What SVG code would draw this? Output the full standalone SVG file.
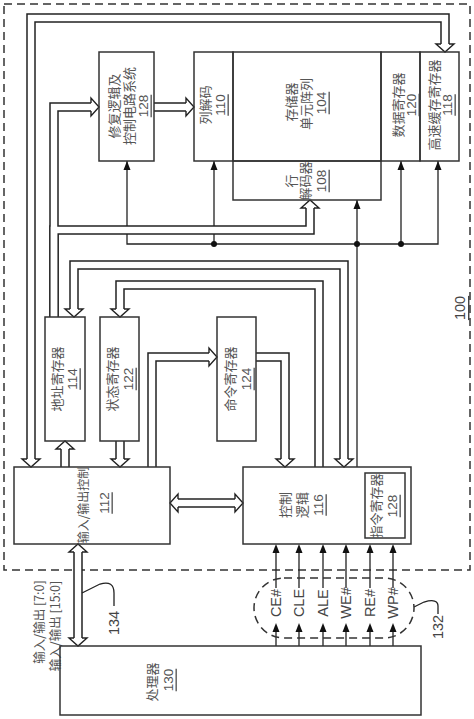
<svg xmlns="http://www.w3.org/2000/svg" xmlns:xlink="http://www.w3.org/1999/xlink" width="474" height="719" viewBox="0 0 474 719">
<style>
.t{font-family:"Noto Sans CJK SC","Liberation Sans",sans-serif;font-size:13px;fill:#555;text-anchor:middle;dominant-baseline:central}
.n{font-family:"Liberation Sans",Arial,sans-serif;font-size:13.5px;fill:#555;text-anchor:middle;dominant-baseline:central}
.s{font-family:"Liberation Sans",Arial,sans-serif;font-size:14.5px;fill:#444;text-anchor:middle;dominant-baseline:central}
.u{text-decoration:underline}
.box{fill:none;stroke:#333;stroke-width:1.5}
.wire{fill:none;stroke:#222;stroke-width:1.3}
.busO{fill:none;stroke:#222;stroke-width:9.5}
.busI{fill:none;stroke:#fff;stroke-width:6.5}
.head{fill:#fff;stroke:#222;stroke-width:1.4}
.dash{fill:none;stroke:#333;stroke-width:1.5;stroke-dasharray:8 5}
</style>
<defs>
<path id="hd" d="M-4,-8 H-9 L0,0 L9,-8 H4"/>
<path id="ah" d="M0,0 L-3.5,-9 L3.5,-9 Z" fill="#111"/>
</defs>
<rect x="0" y="0" width="474" height="719" fill="#fff"/>
<g id="boundary-100">
<rect class="dash" x="4" y="4" width="466" height="566"/>
<text class="s u" transform="translate(460,308) rotate(-90)">100</text>
</g>
<g id="connectors">
<path class="wire" d="M357,467 V200 M127,161 V244 H438 V161 M214,161 V244 M401,161 V244"/>
<circle cx="214" cy="244" r="3" fill="#111"/>
<circle cx="357" cy="244" r="3" fill="#111"/>
<circle cx="401" cy="244" r="3" fill="#111"/>
<use href="#ah" transform="translate(127,161) rotate(180)"/>
<use href="#ah" transform="translate(214,161) rotate(180)"/>
<use href="#ah" transform="translate(357,200) rotate(180)"/>
<use href="#ah" transform="translate(401,161) rotate(180)"/>
<use href="#ah" transform="translate(438,161) rotate(180)"/>
<path class="wire" d="M276,588 V548 M299,588 V548 M323,588 V548 M346,588 V548 M370,588 V548 M393,588 V548 M276,646 V627 M299,646 V627 M323,646 V627 M346,646 V627 M370,646 V627 M393,646 V627"/>
<use href="#ah" transform="translate(276,544) rotate(180)"/>
<use href="#ah" transform="translate(299,544) rotate(180)"/>
<use href="#ah" transform="translate(323,544) rotate(180)"/>
<use href="#ah" transform="translate(346,544) rotate(180)"/>
<use href="#ah" transform="translate(370,544) rotate(180)"/>
<use href="#ah" transform="translate(393,544) rotate(180)"/>
<use href="#ah" transform="translate(276,623) rotate(180)"/>
<use href="#ah" transform="translate(299,623) rotate(180)"/>
<use href="#ah" transform="translate(323,623) rotate(180)"/>
<use href="#ah" transform="translate(346,623) rotate(180)"/>
<use href="#ah" transform="translate(370,623) rotate(180)"/>
<use href="#ah" transform="translate(393,623) rotate(180)"/>
<g class="busO">
<path d="M31,459 V18 H445 V44"/>
<path d="M54,317 V107 H91"/>
<path d="M54,317 V230 H310 V208"/>
<path d="M154,107 H186"/>
<path d="M65,467 V449"/>
<path d="M120,441 V459"/>
<path d="M74,309 V265 H344 V459"/>
<path d="M120,309 V285 H319 V467"/>
<path d="M152,467 V357 H209"/>
<path d="M256,357 H285 V459"/>
<path d="M178,503 H235"/>
<path d="M78,552 V638"/>
</g>
<g class="busI">
<path d="M31,459 V18 H445 V44"/>
<path d="M54,317 V107 H91"/>
<path d="M54,317 V230 H310 V208"/>
<path d="M154,107 H186"/>
<path d="M65,467 V449"/>
<path d="M120,441 V459"/>
<path d="M74,309 V265 H344 V459"/>
<path d="M120,309 V285 H319 V467"/>
<path d="M152,467 V357 H209"/>
<path d="M256,357 H285 V459"/>
<path d="M178,503 H235"/>
<path d="M78,552 V638"/>
</g>
<g class="head">
<use href="#hd" transform="translate(31,467)"/>
<use href="#hd" transform="translate(445,52)"/>
<use href="#hd" transform="translate(99,107) rotate(-90)"/>
<use href="#hd" transform="translate(310,200) rotate(180)"/>
<use href="#hd" transform="translate(194,107) rotate(-90)"/>
<use href="#hd" transform="translate(65,441) rotate(180)"/>
<use href="#hd" transform="translate(120,467)"/>
<use href="#hd" transform="translate(74,317)"/>
<use href="#hd" transform="translate(344,467)"/>
<use href="#hd" transform="translate(120,317)"/>
<use href="#hd" transform="translate(217,357) rotate(-90)"/>
<use href="#hd" transform="translate(285,467)"/>
<use href="#hd" transform="translate(170,503) rotate(90)"/>
<use href="#hd" transform="translate(243,503) rotate(-90)"/>
<use href="#hd" transform="translate(78,544) rotate(180)"/>
<use href="#hd" transform="translate(78,646)"/>
</g>
<path class="wire" d="M82,593 L100,584 Q114,580 114,593 V606"/>
<path class="wire" d="M414,607 L424,602 Q438,598 438,606 V614"/>
<text class="s" transform="translate(114,623) rotate(-90)">134</text>
<text class="t" style="font-size:12.5px" transform="translate(38,622) rotate(-90)">输入/输出 [7:0]</text>
<text class="t" style="font-size:12.5px" transform="translate(54,626) rotate(-90)">输入/输出 [15:0]</text>
</g>
<g id="n128-repair">
<rect class="box" x="99" y="52" width="55" height="109"/>
<text class="t" transform="translate(113,106) rotate(-90)">修复逻辑及</text>
<text class="t" transform="translate(128,106) rotate(-90)">控制电路系统</text>
<text class="n u" transform="translate(143,106) rotate(-90)">128</text>
</g>
<g id="n110">
<rect class="box" x="194" y="52" width="39" height="109"/>
<text class="t" transform="translate(204,105) rotate(-90)">列解码</text>
<text class="n u" transform="translate(220,105) rotate(-90)">110</text>
</g>
<g id="n104">
<rect class="box" x="233" y="52" width="148" height="109"/>
<text class="t" transform="translate(290,102) rotate(-90)">存储器</text>
<text class="t" transform="translate(305,104) rotate(-90)">单元阵列</text>
<text class="n u" transform="translate(321,103) rotate(-90)">104</text>
</g>
<g id="n108">
<rect class="box" x="233" y="161" width="148" height="39"/>
<text class="t" transform="translate(290,181) rotate(-90)">行</text>
<text class="t" transform="translate(304,181) rotate(-90)">解码器</text>
<text class="n u" transform="translate(321,181) rotate(-90)">108</text>
</g>
<g id="n120">
<rect class="box" x="381" y="52" width="39" height="109"/>
<text class="t" transform="translate(397,105) rotate(-90)">数据寄存器</text>
<text class="n u" transform="translate(411,105) rotate(-90)">120</text>
</g>
<g id="n118">
<rect class="box" x="420" y="52" width="39" height="109"/>
<text class="t" transform="translate(433,105) rotate(-90)">高速缓存寄存器</text>
<text class="n u" transform="translate(447,105) rotate(-90)">118</text>
</g>
<g id="n114">
<rect class="box" x="45" y="317" width="40" height="124"/>
<text class="t" transform="translate(56,379) rotate(-90)">地址寄存器</text>
<text class="n u" transform="translate(72,379) rotate(-90)">114</text>
</g>
<g id="n122">
<rect class="box" x="100" y="317" width="39" height="124"/>
<text class="t" transform="translate(111,379) rotate(-90)">状态寄存器</text>
<text class="n u" transform="translate(128,379) rotate(-90)">122</text>
</g>
<g id="n124">
<rect class="box" x="217" y="317" width="39" height="124"/>
<text class="t" transform="translate(229,379) rotate(-90)">命令寄存器</text>
<text class="n u" transform="translate(246,379) rotate(-90)">124</text>
</g>
<g id="n112">
<rect class="box" x="14" y="467" width="156" height="77"/>
<text class="t" style="font-size:12px" transform="translate(82,505) rotate(-90)">输入/输出控制</text>
<text class="n u" transform="translate(104,503) rotate(-90)">112</text>
</g>
<g id="n116">
<rect class="box" x="243" y="467" width="168" height="77"/>
<text class="t" transform="translate(284,505) rotate(-90)">控制</text>
<text class="t" transform="translate(301,505) rotate(-90)">逻辑</text>
<text class="n u" transform="translate(318,505) rotate(-90)">116</text>
</g>
<g id="n128-cmd">
<rect class="box" x="365" y="473" width="40" height="65"/>
<text class="t" transform="translate(375,506) rotate(-90)">指令寄存器</text>
<text class="n u" transform="translate(392,506) rotate(-90)">128</text>
</g>
<g id="n132">
<rect class="dash" x="254" y="578" width="160" height="60" rx="30" ry="30"/>
<text class="s" transform="translate(276,603) rotate(-90)">CE#</text>
<text class="s" transform="translate(299,603) rotate(-90)">CLE</text>
<text class="s" transform="translate(323,603) rotate(-90)">ALE</text>
<text class="s" transform="translate(346,603) rotate(-90)">WE#</text>
<text class="s" transform="translate(370,603) rotate(-90)">RE#</text>
<text class="s" transform="translate(393,603) rotate(-90)">WP#</text>
<text class="s" transform="translate(438,627) rotate(-90)">132</text>
</g>
<g id="n130">
<rect class="box" x="60" y="646" width="361" height="69"/>
<text class="t" transform="translate(151,682) rotate(-90)">处理器</text>
<text class="n u" transform="translate(168,680) rotate(-90)">130</text>
</g>
</svg>
